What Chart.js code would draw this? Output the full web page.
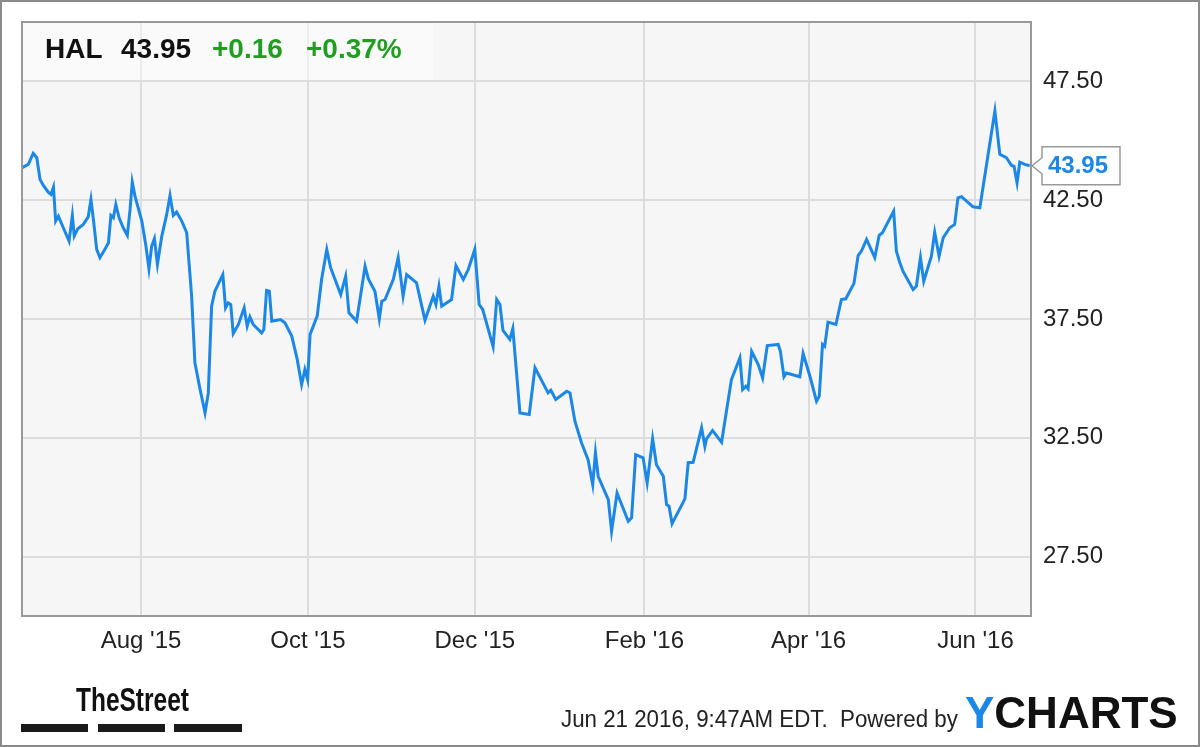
<!DOCTYPE html>
<html>
<head>
<meta charset="utf-8">
<script src="https://cdn.jsdelivr.net/npm/chart.js@4.4.1/dist/chart.umd.min.js"></script>
<style>
  html, body { margin: 0; padding: 0; background: #ffffff; }
  #wrap { width: 1200px; height: 747px; position: relative; }
</style>
</head>
<body>
<div id="wrap"><canvas id="c" width="1200" height="747"></canvas></div>
<script>
// ---- Data (days since 2015-08-01, closing price) ----
const days = [
  -43.4, -41.2, -39.4, -38.1, -36.9, -35.7, -33.9, -32.9, -32.0, -31.2,
  -30.2, -28.4, -26.3, -25.1, -24.4, -23.1, -21.1, -19.3, -18.3, -17.4,
  -16.2, -15.0, -13.2, -11.9, -11.0, -10.1, -9.2, -8.0, -6.5, -5.0,
  -4.0, -3.2, -2.2, 0.3, 1.8, 2.9, 3.9, 4.9, 6.0, 7.6,
  9.4, 10.6, 11.8, 13.0, 14.9, 16.7, 18.5, 19.7, 21.6, 23.4,
  24.6, 25.8, 27.0, 29.9, 30.9, 31.9, 32.8, 33.7, 35.6, 37.7,
  38.8, 39.8, 41.0, 44.1, 44.9, 45.9, 46.9, 47.8, 51.0, 52.6,
  55.1, 57.1, 58.7, 59.9, 60.9, 61.8, 64.4, 66.0, 67.9, 69.3,
  73.0, 74.8, 76.0, 78.8, 81.9, 83.1, 85.5, 87.1, 88.0, 89.2,
  92.2, 94.0, 95.8, 97.1, 100.7, 103.8, 106.8, 107.8, 108.9, 109.9,
  113.5, 115.1, 117.8, 119.6, 122.0, 123.6, 124.9, 128.7, 130.0, 131.2,
  132.3, 134.8, 135.9, 138.5, 141.9, 144.0, 148.8, 149.8, 151.6, 155.6,
  156.8, 158.6, 161.0, 163.4, 165.1, 166.1, 167.1, 170.8, 172.0, 174.0,
  178.1, 179.3, 180.8, 183.5, 185.0, 187.0, 188.4, 190.9, 192.1, 193.0,
  194.1, 198.8, 200.0, 201.8, 204.9, 206.1, 206.7, 208.9, 212.2, 215.8,
  218.9, 219.9, 221.1, 221.9, 223.2, 225.6, 227.2, 228.9, 232.9, 233.7,
  235.0, 235.9, 240.8, 242.0, 244.5, 246.9, 247.9, 249.1, 249.9, 251.1,
  254.0, 256.0, 257.6, 260.6, 262.1, 263.3, 265.2, 268.2, 269.8, 271.0,
  275.1, 276.1, 277.3, 278.5, 282.2, 283.4, 284.9, 286.1, 288.9, 290.1,
  291.7, 293.2, 295.6, 297.4, 298.6, 299.9, 304.1, 306.6, 312.1, 313.9,
  316.3, 318.2, 319.1, 320.2, 321.2, 323.0, 324.8
];
const prices = [
  43.87, 44.01, 44.47, 44.29, 43.37, 43.12, 42.84, 42.74, 43.05, 41.62,
  41.83, 41.34, 40.78, 41.86, 40.99, 41.30, 41.48, 41.80, 42.53, 41.69,
  40.43, 40.08, 40.43, 40.71, 41.86, 41.76, 42.32, 41.76, 41.34, 41.02,
  42.11, 43.26, 42.67, 41.62, 40.57, 39.61, 40.57, 40.88, 39.80, 40.99,
  41.90, 42.70, 41.86, 42.00, 41.62, 41.13, 38.46, 35.66, 34.53, 33.55,
  34.39, 38.04, 38.67, 39.37, 37.97, 38.18, 38.11, 36.89, 37.27, 37.97,
  37.20, 37.59, 37.27, 36.92, 37.06, 38.70, 38.67, 37.41, 37.48, 37.34,
  36.78, 35.80, 34.74, 35.37, 34.95, 36.85, 37.62, 39.16, 40.43, 39.66,
  38.53, 39.30, 37.76, 37.41, 39.72, 39.19, 38.67, 37.51, 38.25, 38.32,
  39.16, 40.08, 38.46, 39.37, 39.02, 37.45, 38.46, 38.11, 38.88, 38.04,
  38.32, 39.75, 39.16, 39.58, 40.43, 38.11, 37.90, 36.34, 38.32, 38.11,
  37.02, 36.64, 37.10, 33.55, 33.48, 35.45, 34.39, 34.50, 34.11, 34.46,
  34.39, 33.20, 32.29, 31.58, 30.53, 31.87, 30.88, 29.90, 28.57, 30.18,
  28.99, 29.13, 31.79, 31.66, 30.60, 32.46, 31.37, 30.88, 29.69, 29.62,
  28.89, 29.93, 31.45, 31.47, 32.92, 32.14, 32.46, 32.81, 32.31, 34.95,
  35.87, 34.53, 34.67, 34.56, 36.14, 35.58, 35.02, 36.38, 36.43, 36.14,
  35.07, 35.23, 35.07, 36.05, 35.09, 34.04, 34.25, 36.43, 36.35, 37.37,
  37.27, 38.32, 38.35, 39.00, 40.17, 40.35, 40.85, 40.08, 41.02, 41.13,
  42.04, 40.35, 39.89, 39.51, 38.74, 38.88, 40.08, 39.09, 40.14, 41.15,
  40.14, 40.92, 41.34, 41.48, 42.60, 42.65, 42.22, 42.18, 46.25, 44.43,
  44.29, 43.96, 43.93, 43.23, 44.10, 44.01, 43.95
];
// ---- Axis ticks ----
const xTickDays = [0, 61, 122, 184, 244, 305];
const xTickLabels = ["Aug '15", "Oct '15", "Dec '15", "Feb '16", "Apr '16", "Jun '16"];
const yTickValues = [27.5, 32.5, 37.5, 42.5, 47.5];
// ---- Header / footer text ----
const ticker = "HAL";
const lastPrice = "43.95";
const change = "+0.16";
const changePct = "+0.37%";
const timestamp = "Jun 21 2016, 9:47AM EDT.  Powered by";

const FONT = '"Liberation Sans", Arial, Helvetica, sans-serif';
const BLUE = '#1b87e6';
const GREEN = '#1f9e1f';

const decorPlugin = {
  id: 'decor',
  beforeDraw(chart) {
    const { ctx, chartArea: a } = chart;
    ctx.save();
    ctx.fillStyle = '#ffffff';
    ctx.fillRect(0, 0, chart.width, chart.height);
    ctx.fillStyle = '#f6f6f6';
    ctx.fillRect(a.left, a.top, a.right - a.left, a.bottom - a.top);
    ctx.restore();
  },
  beforeDatasetsDraw(chart) {
    const { ctx, chartArea: a } = chart;
    ctx.save();
    // header panel
    ctx.fillStyle = 'rgba(255,255,255,0.45)';
    ctx.fillRect(a.left, a.top, 411, 58);
    ctx.textBaseline = 'middle';
    ctx.font = 'bold 28px ' + FONT;
    const y = 50;
    ctx.fillStyle = '#111';
    ctx.fillText(ticker, 45, y);
    ctx.fillText(lastPrice, 121, y);
    ctx.fillStyle = GREEN;
    ctx.fillText(change, 212, y);
    ctx.fillText(changePct, 306, y);
    ctx.restore();
  },
  afterDraw(chart) {
    const { ctx, chartArea: a } = chart;
    const ys = chart.scales.y;
    ctx.save();
    // plot border
    ctx.strokeStyle = '#999';
    ctx.lineWidth = 2;
    ctx.strokeRect(a.left, a.top, a.right - a.left, a.bottom - a.top);
    // outer frame
    ctx.strokeStyle = '#8a8a8a';
    ctx.lineWidth = 2;
    ctx.strokeRect(1, 1, chart.width - 2, chart.height - 2);

    // price tag
    const py = ys.getPixelForValue(prices[prices.length - 1]);
    const bx = 1042, bw = 78, bh = 38;
    ctx.beginPath();
    ctx.moveTo(a.right + 1, py);
    ctx.lineTo(bx, py - 8);
    ctx.lineTo(bx, py - bh / 2);
    ctx.lineTo(bx + bw, py - bh / 2);
    ctx.lineTo(bx + bw, py + bh / 2);
    ctx.lineTo(bx, py + bh / 2);
    ctx.lineTo(bx, py + 8);
    ctx.closePath();
    ctx.fillStyle = '#ffffff';
    ctx.fill();
    ctx.strokeStyle = '#999';
    ctx.lineWidth = 1.5;
    ctx.stroke();
    ctx.fillStyle = BLUE;
    ctx.font = 'bold 24px ' + FONT;
    ctx.textBaseline = 'middle';
    ctx.textAlign = 'left';
    ctx.fillText(lastPrice, 1048, py + 1);

    // TheStreet logo
    ctx.save();
    ctx.translate(76, 711);
    ctx.scale(0.72, 1);
    ctx.font = 'bold 34px ' + FONT;
    ctx.fillStyle = '#111';
    ctx.textBaseline = 'alphabetic';
    ctx.fillText('TheStreet', 0, 0);
    ctx.restore();
    ctx.fillStyle = '#1a1a1a';
    ctx.fillRect(21, 724, 67, 8);
    ctx.fillRect(98, 724, 67, 8);
    ctx.fillRect(174, 724, 68, 8);

    // timestamp
    ctx.save();
    ctx.translate(561, 727);
    ctx.scale(0.97, 1);
    ctx.font = '23px ' + FONT;
    ctx.fillStyle = '#222';
    ctx.textBaseline = 'alphabetic';
    ctx.fillText(timestamp, 0, 0);
    ctx.restore();

    // YCHARTS
    ctx.font = 'bold 44px ' + FONT;
    ctx.textBaseline = 'alphabetic';
    ctx.fillStyle = BLUE;
    ctx.fillText('Y', 965, 728);
    const yw = ctx.measureText('Y').width;
    ctx.fillStyle = '#111';
    ctx.fillText('CHARTS', 965 + yw, 728);
    ctx.restore();
  }
};

const data = days.map((d, i) => ({ x: d, y: prices[i] }));

new Chart(document.getElementById('c'), {
  type: 'line',
  data: {
    datasets: [{
      data: data,
      borderColor: BLUE,
      borderWidth: 3,
      pointRadius: 0,
      tension: 0,
      fill: false
    }]
  },
  options: {
    responsive: false,
    animation: false,
    devicePixelRatio: 1,
    layout: { padding: { left: 22, top: 22, right: 0, bottom: 0 } },
    plugins: { legend: { display: false }, tooltip: { enabled: false } },
    scales: {
      x: {
        type: 'linear',
        min: -43.5,
        max: 325.3,
        afterBuildTicks(scale) { scale.ticks = xTickDays.map(v => ({ value: v })); },
        afterFit(scale) { scale.height = 131; scale.paddingLeft = 0; scale.paddingRight = 0; },
        grid: { color: '#dcdcdc', lineWidth: 2, drawTicks: false },
        border: { display: false },
        ticks: {
          padding: 11,
          maxRotation: 0,
          autoSkip: false,
          color: '#222',
          font: { family: FONT, size: 24 },
          callback(v) { const i = xTickDays.indexOf(v); return i >= 0 ? xTickLabels[i] : ''; }
        }
      },
      y: {
        position: 'right',
        min: 25,
        max: 50,
        afterBuildTicks(scale) { scale.ticks = yTickValues.map(v => ({ value: v })); },
        afterFit(scale) { scale.width = 169; scale.paddingTop = 0; scale.paddingBottom = 0; },
        grid: { color: '#dcdcdc', lineWidth: 2, drawTicks: false },
        border: { display: false },
        ticks: {
          padding: 12,
          color: '#222',
          font: { family: FONT, size: 24 },
          callback(v) { return Number(v).toFixed(2); }
        }
      }
    }
  },
  plugins: [decorPlugin]
});
</script>
</body>
</html>
